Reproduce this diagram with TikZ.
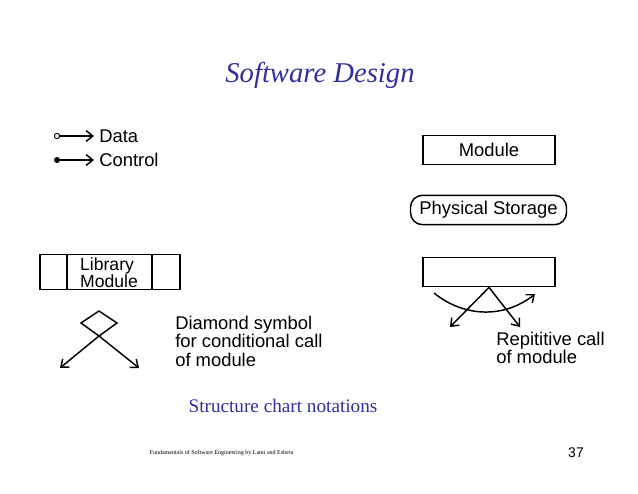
\documentclass[tikz,border=0pt]{standalone}
\usepackage{fontspec}
\setmainfont{Liberation Serif}
\setsansfont{Liberation Sans}
\usetikzlibrary{arrows.meta}
\definecolor{tblue}{HTML}{3030A0}
\tikzset{x=0.75pt,y=-0.75pt,
 ln/.style={line width=1.1pt},
 arr/.style={ln,-{Straight Barb[length=5pt,width=8pt]}},
 sf/.style={font=\sffamily\fontsize{13.8}{13.2}\selectfont,align=left,inner sep=0pt},
 box/.style={draw,ln,inner sep=0pt}}
\begin{document}
\begin{tikzpicture}
\useasboundingbox (0,0) rectangle (638,493);
\node[text=tblue,font=\itshape\fontsize{21.5}{24}\selectfont] (title) at (320,75) {Software Design};
% legend
\coordinate (d0) at (57,136); \coordinate (d1) at (94,136);
\node[draw,circle,inner sep=0pt,minimum size=4pt,line width=0.7pt] (dc) at (d0) {};
\draw[arr] (dc) -- (d1);
\node[sf,anchor=west] (dt) at (99,136) {Data};
\coordinate (c0) at (57,160); \coordinate (c1) at (94,160);
\node[fill,circle,inner sep=0pt,minimum size=4.5pt] (cc) at (c0) {};
\draw[arr] (cc) -- (c1);
\node[sf,anchor=west] (ct) at (99,160) {Control};
% module
\node[box,minimum width=99pt,minimum height=22pt,sf] (mod) at (489,150) {Module};
\node[box,rounded corners=9pt,minimum width=117pt,minimum height=22pt,sf] (ps) at (488.5,210) {Physical Storage};
% library
\node[box,minimum width=105pt,minimum height=26pt] (lib) at (110,272) {};
\draw[ln] (67,255) -- (67,289) (152,255) -- (152,289);
\node[sf,font=\sffamily\fontsize{13.2}{13}\selectfont] (libt) at (109,272.5) {Library\\[-0.5pt]Module};
% diamond
\coordinate (dT) at (99,311); \coordinate (dR) at (117,323); \coordinate (dB) at (99,336); \coordinate (dL) at (81,323);
\draw[ln] (dT) -- (dR) -- (dB) -- (dL) -- cycle;
\coordinate (da) at (60,368); \coordinate (db) at (139,368);
\draw[arr] (dB) -- (da); \draw[arr] (dB) -- (db);
\node[sf,anchor=north west] (dtx) at (175,316) {Diamond symbol\\[0.5pt]for conditional call\\[0.5pt]of module};
% repetitive
\node[box,minimum width=99pt,minimum height=22pt] (rep) at (489,272) {};
\coordinate (ra) at (450,327); \coordinate (rb) at (520,327);
\draw[arr] (rep.south) -- (ra); \draw[arr] (rep.south) -- (rb);
\coordinate (q0) at (434,293); \coordinate (q1) at (535,294);
\draw[arr] (q0) .. controls (465,318) and (505,318) .. (q1);
\node[sf,anchor=north west] (rtx) at (496,332) {Repititive call\\[0.5pt]of module};
\node[text=tblue,font=\fontsize{14.4}{16}\selectfont] (cap) at (283,406) {Structure chart notations};
\node[font=\fontsize{4.5}{5}\selectfont,anchor=west] (foot) at (145,453) {Fundamentals of Software Engineering by Lami and Eshetu};
\node[sf,font=\sffamily\fontsize{10.5}{12}\selectfont] (pg) at (576,453) {37};
\end{tikzpicture}
\end{document}
